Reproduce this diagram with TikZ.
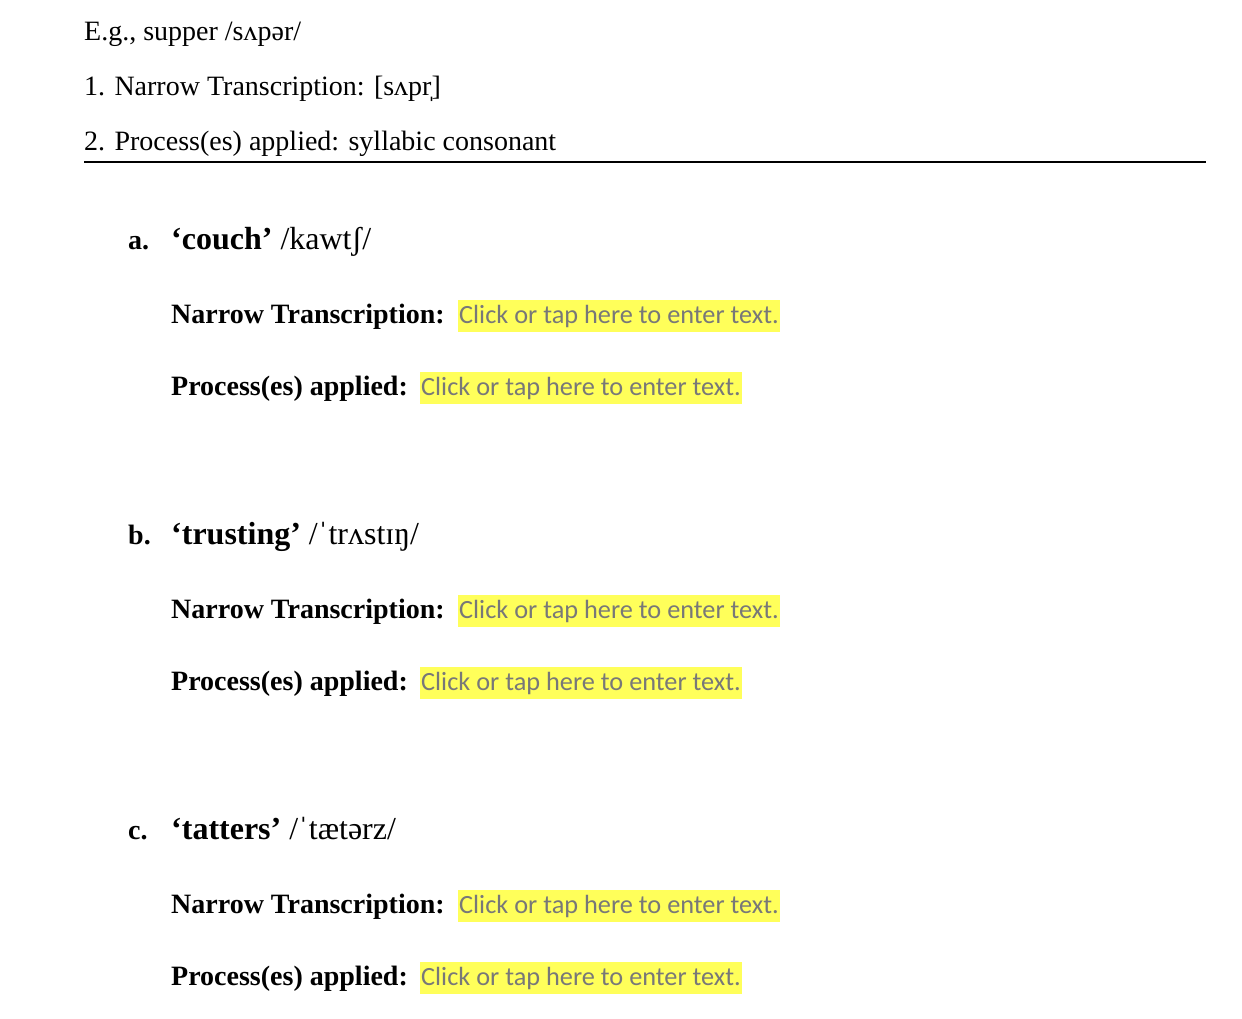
\documentclass[tikz,border=0pt]{standalone}
\usepackage{fontspec}
\setmainfont{Liberation Serif}
\newfontfamily\fillfont{Carlito}
\definecolor{hl}{RGB}{255,255,90}
\definecolor{ph}{RGB}{120,120,120}
\begin{document}
\begin{tikzpicture}[x=1pt,y=-1pt,
  body/.style={anchor=base west,inner sep=0pt,font=\fontsize{28}{32}\selectfont},
  head/.style={anchor=base west,inner sep=0pt,font=\fontsize{32}{36}\selectfont},
  lab/.style={anchor=base west,inner sep=0pt,font=\bfseries\fontsize{28}{32}\selectfont},
  fill box/.style={anchor=base west,inner xsep=1pt,inner ysep=0pt,fill=hl,text=ph,text height=23pt,text depth=9pt,font=\fillfont\fontsize{26.3}{30}\selectfont}]
\useasboundingbox (0,0) rectangle (1242,1018);
\node[body] (eg) at (84,40) {E.g., supper /sʌpər/};
\node[body] (n1) at (84,95) {1. Narrow Transcription: [sʌpr̩]};
\node[body] (n2) at (84,150) {2. Process(es) applied: syllabic consonant};
\coordinate (r1) at (84,162); \coordinate (r2) at (1206,162);
\draw[line width=1.5pt] (r1) -- (r2);
\foreach \y/\l/\w/\t in {0/a/couch/kawtʃ, 295/b/trusting/ˈtrʌstɪŋ, 590/c/tatters/ˈtætərz}{
  \node[lab] (l\l) at (128,249+\y) {\l.};
  \node[head] (w\l) at (171,249+\y) {\textbf{‘\w’} /\t/};
  \node[lab] (nt\l) at (171,323+\y) {Narrow Transcription:};
  \node[fill box] (fa\l) at (458,323+\y) {Click or tap here to enter text.};
  \node[lab] (pa\l) at (171,395+\y) {Process(es) applied:};
  \node[fill box] (fb\l) at (420,395+\y) {Click or tap here to enter text.};
}
\end{tikzpicture}
\end{document}
